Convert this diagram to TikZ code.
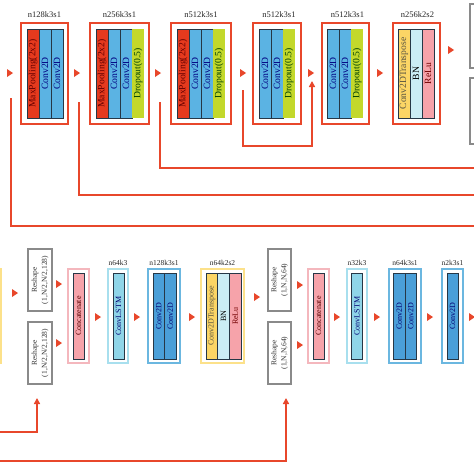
\documentclass[tikz,border=0pt]{standalone}
\usepackage{fontspec}
\setmainfont{Liberation Serif}
\usetikzlibrary{arrows.meta}
\definecolor{redl}{HTML}{E8472B}
\definecolor{mpool}{HTML}{E53A1E}
\definecolor{convt}{HTML}{5BB3E3}
\definecolor{drop}{HTML}{C3D82B}
\definecolor{ctr}{HTML}{FBD565}
\definecolor{bnc}{HTML}{CBEDF5}
\definecolor{relu}{HTML}{F6A3AA}
\definecolor{convb}{HTML}{4A9FD8}
\definecolor{convbf}{HTML}{6BB7E0}
\definecolor{lstm}{HTML}{8FD5E8}
\definecolor{lstmf}{HTML}{A8DFEE}
\definecolor{catf}{HTML}{F4B7BD}
\definecolor{yelf}{HTML}{FCE18A}
\definecolor{grayb}{HTML}{8A8A8A}
\definecolor{lborder}{HTML}{263746}
\newcommand\Lay[6]{\node[lay,#5,minimum height=#3pt,minimum width=#4pt] (#1) at #2 {#6};}
\newcommand\Frm[5]{\node[#5,minimum width=#3pt,minimum height=#4pt] (#1) at #2 {};}
\begin{document}
\begin{tikzpicture}[x=1pt,y=-1pt,
  frame/.style={draw=redl,line width=1.6pt,inner sep=0pt},
  bframe/.style={draw=#1,line width=1.6pt,inner sep=0pt},
  lay/.style={rotate=90,inner sep=0pt,draw=lborder,line width=0.7pt},
  ttxt/.style={font=\fontsize{9.6}{9.6}\selectfont},
  btxt/.style={font=\fontsize{8}{8}\selectfont},
  lbl/.style={font=\fontsize{8.5}{8.5}\selectfont,text=black!85},
  blbl/.style={font=\fontsize{7.5}{7.5}\selectfont,text=black!85},
  rbox/.style={draw=grayb,line width=1.6pt,rotate=90,inner sep=0pt,align=center,
    font=\fontsize{7.5}{10}\selectfont,text=black!80},
  link/.style={draw=redl,line width=1.5pt},
  tip/.style={-{Triangle[width=6pt,length=6pt]}},
  tri/.pic={\fill[redl] (-3,-4) -- (3,0) -- (-3,4) -- cycle;}]
\useasboundingbox (0,0) rectangle (474,474);
\clip (0,0) rectangle (474,474);
\fill[white] (0,0) rectangle (474,474);

% ---------------- top row ----------------
\Frm{F1}{(44.5,73.5)}{47}{101}{frame}
\Lay{t11}{(33,73.5)}{12}{89}{fill=mpool,ttxt,text=red!40!black}{MaxPooling(2x2)}
\Lay{t12}{(45,73.5)}{12}{89}{fill=convt,ttxt,text=blue!50!black}{Conv2D}
\Lay{t13}{(57,73.5)}{12}{89}{fill=convt,ttxt,text=blue!50!black}{Conv2D}
\node[lbl] (l1) at (44.5,15) {n128k3s1};

\Frm{F2}{(119.5,73.5)}{59}{101}{frame}
\Lay{t21}{(102,73.5)}{12}{89}{fill=mpool,ttxt,text=red!40!black}{MaxPooling(2x2)}
\Lay{t22}{(114,73.5)}{12}{89}{fill=convt,ttxt,text=blue!50!black}{Conv2D}
\Lay{t23}{(126,73.5)}{12}{89}{fill=convt,ttxt,text=blue!50!black}{Conv2D}
\Lay{t24}{(138,73.5)}{12}{89}{fill=drop,draw=none,ttxt,text=green!25!black}{Dropout(0.5)}
\node[lbl] (l2) at (119.5,15) {n256k3s1};

\Frm{F3}{(201,73.5)}{60}{101}{frame}
\Lay{t31}{(183,73.5)}{12}{89}{fill=mpool,ttxt,text=red!40!black}{MaxPooling(2x2)}
\Lay{t32}{(195,73.5)}{12}{89}{fill=convt,ttxt,text=blue!50!black}{Conv2D}
\Lay{t33}{(207,73.5)}{12}{89}{fill=convt,ttxt,text=blue!50!black}{Conv2D}
\Lay{t34}{(219,73.5)}{12}{89}{fill=drop,draw=none,ttxt,text=green!25!black}{Dropout(0.5)}
\node[lbl] (l3) at (201,15) {n512k3s1};

\Frm{F4}{(277,73.5)}{48}{101}{frame}
\Lay{t41}{(265,73.5)}{12}{89}{fill=convt,ttxt,text=blue!50!black}{Conv2D}
\Lay{t42}{(277,73.5)}{12}{89}{fill=convt,ttxt,text=blue!50!black}{Conv2D}
\Lay{t43}{(289,73.5)}{12}{89}{fill=drop,draw=none,ttxt,text=green!25!black}{Dropout(0.5)}
\node[lbl] (l4) at (279,15) {n512k3s1};

\Frm{F5}{(345.5,73.5)}{47}{101}{frame}
\Lay{t51}{(333,73.5)}{12}{89}{fill=convt,ttxt,text=blue!50!black}{Conv2D}
\Lay{t52}{(345,73.5)}{12}{89}{fill=convt,ttxt,text=blue!50!black}{Conv2D}
\Lay{t53}{(357,73.5)}{12}{89}{fill=drop,draw=none,ttxt,text=green!25!black}{Dropout(0.5)}
\node[lbl] (l5) at (347.5,15) {n512k3s1};

\Frm{F6}{(416.5,73.5)}{47}{101}{frame}
\Lay{t61}{(404,73.5)}{12}{89}{fill=ctr,ttxt,text=yellow!25!black}{Conv2DTranspose}
\Lay{t62}{(416,73.5)}{12}{89}{fill=bnc,ttxt,text=black}{BN}
\Lay{t63}{(428,73.5)}{12}{89}{fill=relu,ttxt,text=red!45!black}{ReLu}
\node[lbl] (l6) at (417.5,15) {n256k2s2};

% right-edge reshape boxes (cut off)
\node[draw=grayb,line width=1.6pt,minimum width=40pt,minimum height=64pt,anchor=north west] (G1) at (469,3) {};
\node[draw=grayb,line width=1.6pt,minimum width=40pt,minimum height=66pt,anchor=north west] (G2) at (469,77) {};

% arrows top
\foreach \n/\x/\y in {a1/10/73,a2/77/73,a3/158/73,a4/243/73,a5/311/73,a6/380/73,a7/451/50}
  {\coordinate (\n) at (\x,\y); \pic at (\n) {tri};}

% skip connections
\coordinate (s1a) at (11,98);  \coordinate (s1b) at (480,226);
\coordinate (s2a) at (79,102); \coordinate (s2b) at (480,195);
\coordinate (s3a) at (160,102); \coordinate (s3b) at (480,168);
\coordinate (s4a) at (243,90); \coordinate (s4c) at (243,146); \coordinate (s4b) at (312,81);
\draw[link] (s1a) |- (s1b);
\draw[link] (s2a) |- (s2b);
\draw[link] (s3a) |- (s3b);
\draw[link,tip] (s4a) -- (s4c) -| (s4b);

% ---------------- bottom row ----------------
\node[bframe=yelf,minimum width=40pt,minimum height=94pt,anchor=east] (Y0) at (1.5,316) {};

\node[rbox,minimum width=62pt,minimum height=24pt] (R1) at (40,280) {Reshape\\(1,N/2,N/2,128)};
\node[rbox,minimum width=62pt,minimum height=24pt] (R2) at (40,353) {Reshape\\(1,N/2,N/2,128)};

\Frm{C1}{(78.5,316)}{21}{94}{bframe=catf}
\Lay{c1l}{(78.5,316)}{11}{86}{fill=relu,btxt,text=red!35!black}{Concatenate}

\Frm{L1}{(118,316)}{20}{94}{bframe=lstmf}
\Lay{L1l}{(118.5,316)}{11}{86}{fill=lstm,btxt,text=blue!45!black}{ConvLSTM}
\node[blbl] (bl1) at (118,263) {n64k3};

\Frm{V1}{(164,316)}{32}{94}{bframe=convbf}
\Lay{v11}{(158.75,316)}{11.5}{86}{fill=convb,btxt,text=blue!45!black}{Conv2D}
\Lay{v12}{(170.25,316)}{11.5}{86}{fill=convb,btxt,text=blue!45!black}{Conv2D}
\node[blbl] (bl2) at (164,263) {n128k3s1};

\Frm{T1}{(222.5,316)}{43}{94}{bframe=yelf}
\Lay{u11}{(211.85,316)}{11.7}{86}{fill=ctr,btxt,text=yellow!25!black}{Conv2DTranspose}
\Lay{u12}{(223.55,316)}{11.7}{86}{fill=bnc,btxt,text=black}{BN}
\Lay{u13}{(235.25,316)}{11.7}{86}{fill=relu,btxt,text=red!45!black}{ReLu}
\node[blbl] (bl3) at (222.5,263) {n64k2s2};

\node[rbox,minimum width=62pt,minimum height=23pt] (R3) at (279.5,280) {Reshape\\(1,N,N,64)};
\node[rbox,minimum width=62pt,minimum height=23pt] (R4) at (279.5,353) {Reshape\\(1,N,N,64)};

\Frm{C2}{(318.5,316)}{21}{94}{bframe=catf}
\Lay{c2l}{(318.5,316)}{11}{86}{fill=relu,btxt,text=red!35!black}{Concatenate}

\Frm{L2}{(357,316)}{20}{94}{bframe=lstmf}
\Lay{L2l}{(357,316)}{11}{86}{fill=lstm,btxt,text=blue!45!black}{ConvLSTM}
\node[blbl] (bl4) at (357,263) {n32k3};

\Frm{V2}{(405,316)}{32}{94}{bframe=convbf}
\Lay{v21}{(399.25,316)}{11.5}{86}{fill=convb,btxt,text=blue!45!black}{Conv2D}
\Lay{v22}{(410.75,316)}{11.5}{86}{fill=convb,btxt,text=blue!45!black}{Conv2D}
\node[blbl] (bl5) at (405,263) {n64k3s1};

\Frm{V3}{(452.5,316)}{21}{94}{bframe=convbf}
\Lay{v31}{(452.5,316)}{11}{86}{fill=convb,btxt,text=blue!45!black}{Conv2D}
\node[blbl] (bl6) at (452.5,263) {n2k3s1};

% arrows bottom
\foreach \n/\x/\y in {b1/15/293,b2/59/284,b3/59/343,b4/98/317,b5/137/317,b6/192/317,
  b7/257/297,b8/300/285,b9/300/345,b10/337/317,b11/377/317,b12/430/317,b13/472/317}
  {\coordinate (\n) at (\x,\y); \pic at (\n) {tri};}

% bottom feeds
\coordinate (f1a) at (-5,432); \coordinate (f1b) at (37,398);
\coordinate (f2a) at (-5,461); \coordinate (f2b) at (286,398);
\draw[link,tip] (f1a) -| (f1b);
\draw[link,tip] (f2a) -| (f2b);
\end{tikzpicture}
\end{document}
